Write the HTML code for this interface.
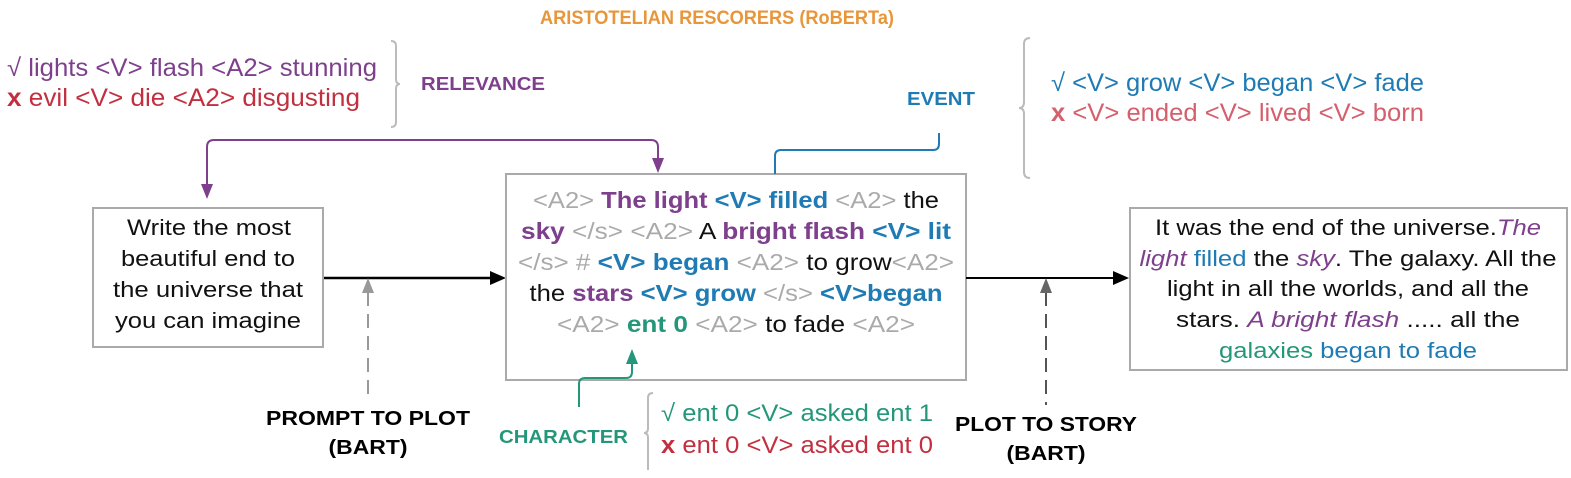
<!DOCTYPE html>
<html><head><meta charset="utf-8"><style>
html,body{margin:0;padding:0;background:#fff;}
svg{display:block;font-family:"Liberation Sans",sans-serif;}
.g{fill:#aaa}.p{fill:#7e3f8d}.b{fill:#1f7bb4}.k{fill:#111}.gr{fill:#24977a}.r{fill:#c2303f}
.bd{font-weight:bold}
</style></head><body>
<svg width="1571" height="478" viewBox="0 0 1571 478" xmlns="http://www.w3.org/2000/svg">
<!-- title -->
<text x="717" y="24" text-anchor="middle" font-size="19" font-weight="bold" fill="#e8963a" textLength="354" lengthAdjust="spacingAndGlyphs">ARISTOTELIAN RESCORERS  (RoBERTa)</text>

<!-- relevance -->
<text x="7" y="76" font-size="25" class="p" textLength="370" lengthAdjust="spacingAndGlyphs">√ lights &lt;V&gt; flash &lt;A2&gt; stunning</text>
<text x="7" y="106" font-size="25" class="r" textLength="353" lengthAdjust="spacingAndGlyphs"><tspan font-weight="bold">x</tspan> evil  &lt;V&gt; die &lt;A2&gt; disgusting</text>
<path d="M391,41 q5,0 5,5 v33 q0,5 4,5 q-4,0 -4,5 v33 q0,5 -5,5" fill="none" stroke="#bbb" stroke-width="2"/>
<text x="421" y="90" font-size="18" font-weight="bold" class="p" textLength="124" lengthAdjust="spacingAndGlyphs">RELEVANCE</text>

<!-- purple connector -->
<path d="M207,192 V147 q0,-7 7,-7 H651 q7,0 7,7 V160" fill="none" stroke="#7e3f8d" stroke-width="2"/>
<path d="M201,184 L213,184 L207,199z" fill="#7e3f8d"/>
<path d="M652,158 L664,158 L658,173z" fill="#7e3f8d"/>

<!-- left box -->
<rect x="93" y="208" width="230" height="139" fill="#fff" stroke="#aaa" stroke-width="2"/>
<g font-size="22.5" class="k" text-anchor="middle">
<text x="209" y="235" textLength="164" lengthAdjust="spacingAndGlyphs">Write the most</text>
<text x="208" y="266" textLength="174" lengthAdjust="spacingAndGlyphs">beautiful end to</text>
<text x="208" y="297" textLength="190" lengthAdjust="spacingAndGlyphs">the universe that</text>
<text x="208" y="328" textLength="186" lengthAdjust="spacingAndGlyphs">you can imagine</text>
</g>
<line x1="324" y1="278" x2="495" y2="278" stroke="#000" stroke-width="2.5"/>
<path d="M490,271 L506,278 L490,285z" fill="#000"/>
<line x1="368" y1="292" x2="368" y2="400" stroke="#999" stroke-width="2" stroke-dasharray="14,8"/>
<path d="M362,293 L374,293 L368,278z" fill="#999"/>
<text x="368" y="425" font-size="20" font-weight="bold" text-anchor="middle" textLength="204" lengthAdjust="spacingAndGlyphs">PROMPT TO PLOT</text>
<text x="368" y="454" font-size="20" font-weight="bold" text-anchor="middle" textLength="79" lengthAdjust="spacingAndGlyphs">(BART)</text>

<!-- center box -->
<rect x="506" y="174" width="460" height="206" fill="#fff" stroke="#aaa" stroke-width="2"/>
<g font-size="23" text-anchor="middle">
<text x="736" y="208" textLength="406" lengthAdjust="spacingAndGlyphs"><tspan class="g">&lt;A2&gt; </tspan><tspan class="p bd">The light </tspan><tspan class="b bd">&lt;V&gt; filled </tspan><tspan class="g">&lt;A2&gt; </tspan><tspan class="k">the</tspan></text>
<text x="736" y="239" textLength="430" lengthAdjust="spacingAndGlyphs"><tspan class="p bd">sky </tspan><tspan class="g">&lt;/s&gt;  &lt;A2&gt; </tspan><tspan class="k">A </tspan><tspan class="p bd">bright flash </tspan><tspan class="b bd">&lt;V&gt; lit</tspan></text>
<text x="736" y="270" textLength="436" lengthAdjust="spacingAndGlyphs"><tspan class="g">&lt;/s&gt; #  </tspan><tspan class="b bd">&lt;V&gt; began </tspan><tspan class="g">&lt;A2&gt; </tspan><tspan class="k">to grow</tspan><tspan class="g">&lt;A2&gt;</tspan></text>
<text x="736" y="301" textLength="413" lengthAdjust="spacingAndGlyphs"><tspan class="k">the </tspan><tspan class="p bd">stars </tspan><tspan class="b bd">&lt;V&gt; grow </tspan><tspan class="g">&lt;/s&gt; </tspan><tspan class="b bd">&lt;V&gt;began</tspan></text>
<text x="736" y="332" textLength="358" lengthAdjust="spacingAndGlyphs"><tspan class="g">&lt;A2&gt; </tspan><tspan class="gr bd">ent 0 </tspan><tspan class="g">&lt;A2&gt; </tspan><tspan class="k">to fade  </tspan><tspan class="g">&lt;A2&gt;</tspan></text>
</g>

<!-- event connector -->
<path d="M775,174 V156 q0,-6 6,-6 H933 q6,0 6,-6 V133" fill="none" stroke="#1f7bb4" stroke-width="2"/>
<text x="907" y="105" font-size="18" font-weight="bold" class="b" textLength="68" lengthAdjust="spacingAndGlyphs">EVENT</text>
<path d="M1030,38 q-6,0 -6,6 v58 q0,6 -5,6 q5,0 5,6 v58 q0,6 6,6" fill="none" stroke="#bbb" stroke-width="2"/>
<text x="1051" y="91" font-size="25" class="b" textLength="373" lengthAdjust="spacingAndGlyphs">√ &lt;V&gt; grow &lt;V&gt; began &lt;V&gt; fade</text>
<text x="1051" y="121" font-size="25" fill="#d4606d" textLength="373" lengthAdjust="spacingAndGlyphs"><tspan font-weight="bold">x</tspan> &lt;V&gt; ended &lt;V&gt; lived &lt;V&gt; born</text>

<!-- right arrow -->
<line x1="966" y1="278" x2="1118" y2="278" stroke="#000" stroke-width="2"/>
<path d="M1113,271 L1129,278 L1113,285z" fill="#000"/>
<line x1="1046" y1="292" x2="1046" y2="405" stroke="#555" stroke-width="2" stroke-dasharray="14,8"/>
<path d="M1040,293 L1052,293 L1046,278z" fill="#666"/>
<text x="1046" y="431" font-size="20" font-weight="bold" text-anchor="middle" textLength="182" lengthAdjust="spacingAndGlyphs">PLOT TO STORY</text>
<text x="1046" y="460" font-size="20" font-weight="bold" text-anchor="middle" textLength="79" lengthAdjust="spacingAndGlyphs">(BART)</text>

<!-- right box -->
<rect x="1130" y="208" width="437" height="162" fill="#fff" stroke="#aaa" stroke-width="2"/>
<g font-size="22.5" text-anchor="middle">
<text x="1348" y="235" textLength="386" lengthAdjust="spacingAndGlyphs"><tspan class="k">It was the end of the universe.</tspan><tspan class="p" font-style="italic">The</tspan></text>
<text x="1348" y="266" textLength="417" lengthAdjust="spacingAndGlyphs"><tspan class="p" font-style="italic">light </tspan><tspan class="b">filled </tspan><tspan class="k">the </tspan><tspan class="p" font-style="italic">sky</tspan><tspan class="k">. The galaxy. All the</tspan></text>
<text x="1348" y="296" textLength="362" lengthAdjust="spacingAndGlyphs" class="k">light in all the worlds, and all the</text>
<text x="1348" y="327" textLength="344" lengthAdjust="spacingAndGlyphs"><tspan class="k">stars. </tspan><tspan class="p" font-style="italic">A bright flash </tspan><tspan class="k">..... all  the</tspan></text>
<text x="1348" y="358" textLength="258" lengthAdjust="spacingAndGlyphs"><tspan class="gr">galaxies </tspan><tspan class="b">began to fade</tspan></text>
</g>

<!-- character -->
<path d="M579,407 V384 q0,-6 6,-6 H626 q6,0 6,-6 V362" fill="none" stroke="#24977a" stroke-width="2"/>
<path d="M626,364 L638,364 L632,349z" fill="#24977a"/>
<text x="499" y="443" font-size="18" font-weight="bold" class="gr" textLength="129" lengthAdjust="spacingAndGlyphs">CHARACTER</text>
<path d="M653,393 q-5,0 -5,5 v30 q0,5 -4,5 q4,0 4,5 v32" fill="none" stroke="#bbb" stroke-width="2"/>
<text x="661" y="421" font-size="24" class="gr" textLength="272" lengthAdjust="spacingAndGlyphs">√ ent 0 &lt;V&gt; asked ent 1</text>
<text x="661" y="453" font-size="24" class="r" textLength="272" lengthAdjust="spacingAndGlyphs"><tspan font-weight="bold">x</tspan> ent 0 &lt;V&gt; asked ent 0</text>
</svg>
</body></html>
